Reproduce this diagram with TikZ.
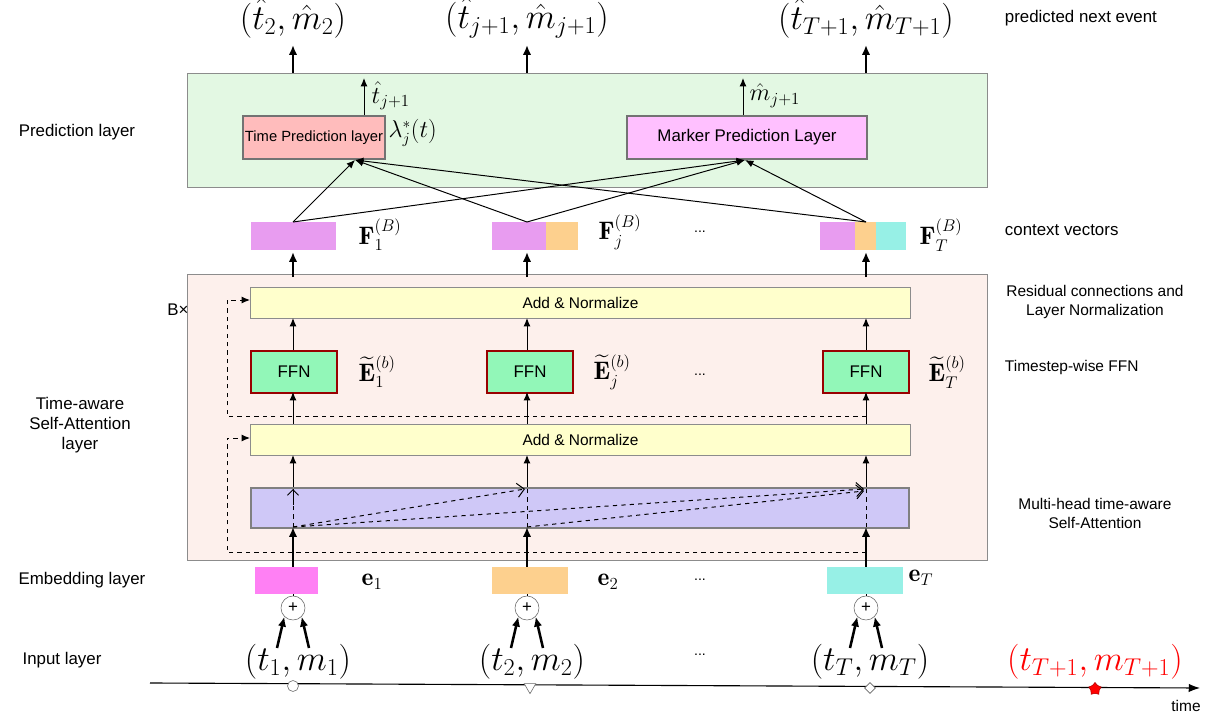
\documentclass[tikz,border=0pt]{standalone}
\usepackage{amsmath}
\usepackage{fontspec}
\setsansfont{Liberation Sans}
\usetikzlibrary{arrows.meta,shapes.geometric,shapes.misc}
\definecolor{cpurp}{HTML}{E89CF0}
\definecolor{corng}{HTML}{FDD08E}
\definecolor{ccyan}{HTML}{97F0E6}
\definecolor{cmag}{HTML}{FF80F4}
\definecolor{ctp}{HTML}{FFBCBC}
\definecolor{cmp}{HTML}{FFC0FF}
\definecolor{cffn}{HTML}{92F7B8}
\definecolor{catt}{HTML}{CFC8F7}
\definecolor{cyel}{HTML}{FFFFCC}
\definecolor{cgrn}{HTML}{E3F8E3}
\definecolor{cpink}{HTML}{FDF0EC}
\begin{document}
\begin{tikzpicture}[x=0.025cm,y=-0.025cm,
  lab/.style={font=\sffamily\fontsize{12}{14}\selectfont,align=center},
  blk/.style={draw=black!45,line width=0.8pt,inner sep=0pt},
  thick arr/.style={-{Latex[length=7pt,width=6pt]},line width=1.8pt},
  arr/.style={-{Latex[length=6pt,width=5pt]},line width=0.7pt},
  dsh/.style={dashed,line width=0.7pt},
  mathl/.style={font=\fontsize{18}{20}\selectfont,inner sep=1pt},
  bigm/.style={font=\fontsize{24}{26}\selectfont,inner sep=1pt}]
\useasboundingbox (0,0) rectangle (1213,716);
% panels
\node[blk,fill=cgrn,minimum width=800*0.025cm,minimum height=114*0.025cm,anchor=north west] (pred) at (187,73) {};
\node[blk,fill=cpink,minimum width=800*0.025cm,minimum height=286*0.025cm,anchor=north west] (att) at (187,274) {};
% prediction boxes
\node[draw=black!55,line width=1.5pt,fill=ctp,inner sep=0pt,minimum width=142*0.025cm,minimum height=43*0.025cm,anchor=north west,font=\sffamily\fontsize{10.5}{13}\selectfont] (tp) at (242,115) {Time Prediction layer};
\node[draw=black!55,line width=1.5pt,fill=cmp,inner sep=0pt,minimum width=240*0.025cm,minimum height=43*0.025cm,anchor=north west,font=\sffamily\fontsize{12}{14}\selectfont] (mp) at (626,115) {Marker Prediction Layer};
\coordinate (tpo) at (364,78); \coordinate (mpo) at (743,78);
\draw[arr] (364,115) -- (tpo);
\draw[arr] (743,115) -- (mpo);
\node[mathl,anchor=west] (th) at (370,96) {$\hat t_{j+1}$};
\node[mathl,anchor=west] (mh) at (748,96) {$\hat m_{j+1}$};
\node[mathl,anchor=west,font=\fontsize{16}{18}\selectfont] (lam) at (387,133) {$\lambda_j^*(t)$};
% outputs
\node[bigm] (o1) at (293,18) {$(\hat t_2,\hat m_2)$};
\node[bigm] (o2) at (527,18) {$(\hat t_{j+1},\hat m_{j+1})$};
\node[bigm] (o3) at (866,18) {$(\hat t_{T+1},\hat m_{T+1})$};
\foreach \x/\n in {293/o1,527/o2,866/o3} \draw[thick arr] (\x,73) -- (\x,45);
% context vectors
\fill[cpurp] (251,222) rectangle (336,250);
\fill[cpurp] (492,222) rectangle (546,250);
\fill[corng] (546,222) rectangle (578,250);
\fill[cpurp] (820,222) rectangle (855,250);
\fill[corng] (855,222) rectangle (876,250);
\fill[ccyan] (876,222) rectangle (906,250);
\coordinate (f1) at (293,222); \coordinate (fj) at (527,222); \coordinate (fT) at (866,222);
\coordinate (tin) at (355,160); \coordinate (min) at (745,160);
\foreach \f in {f1,fj,fT}{\draw[arr] (\f) -- (tin); \draw[arr] (\f) -- (min);}
\node[mathl,anchor=west] (F1) at (357,235) {$\mathbf F_1^{(B)}$};
\node[mathl,anchor=west] (Fj) at (597,232) {$\mathbf F_j^{(B)}$};
\node (d1) at (700,232) {\sffamily ...};
\node[mathl,anchor=west] (FT) at (918,235) {$\mathbf F_T^{(B)}$};
\foreach \x in {293,527,866} \draw[thick arr] (\x,277) -- (\x,252);
% add & norm
\node[blk,fill=cyel,minimum width=660*0.025cm,minimum height=31*0.025cm,anchor=north west,font=\sffamily\fontsize{11}{13}\selectfont] (an1) at (250,287) {Add \& Normalize};
\node[blk,fill=cyel,minimum width=660*0.025cm,minimum height=31*0.025cm,anchor=north west,font=\sffamily\fontsize{11}{13}\selectfont] (an2) at (250,424) {Add \& Normalize};
\node[blk,fill=catt,draw=black!50,line width=1.4pt,minimum width=658*0.025cm,minimum height=40*0.025cm,anchor=north west] (mha) at (250,487) {};
% FFN
\foreach \x/\n in {250/ffa,486/ffb,822/ffc}
  \node[draw=red!60!black,line width=1.5pt,fill=cffn,minimum width=86*0.025cm,minimum height=42*0.025cm,anchor=north west,font=\sffamily\fontsize{12}{14}\selectfont] (\n) at (\x,350) {FFN};
\node[mathl,anchor=west] (E1) at (357,372) {$\widetilde{\mathbf E}_1^{(b)}$};
\node[mathl,anchor=west] (Ej) at (592,372) {$\widetilde{\mathbf E}_j^{(b)}$};
\node (d2) at (700,375) {\sffamily ...};
\node[mathl,anchor=west] (ET) at (927,372) {$\widetilde{\mathbf E}_T^{(b)}$};
% vertical arrows in block
\foreach \x in {293,527,866}{
  \draw[arr] (\x,350) -- (\x,318);
  \draw[arr] (\x,424) -- (\x,392);
  \draw[arr] (\x,487) -- (\x,455);
  \draw[thick arr] (\x,567) -- (\x,527);
  \draw[dsh] (\x,527) -- (\x,489);
}
% attention dashed
\draw[dsh,-{Straight Barb[length=5pt]}] (293,527) -- (525,489);
\draw[dsh,-{Straight Barb[length=5pt]}] (293,527) -- (864,489);
\draw[dsh,-{Straight Barb[length=5pt]}] (527,527) -- (864,491);
\draw[dsh,-{Straight Barb[length=4pt]}] (293,505) -- (293,489);
% residuals
\draw[dsh,-{Latex[length=6pt,width=5pt]}] (866,416) -- (227,416) -- (227,300) -- (an1.west |- 0,300);
\draw[dsh,-{Latex[length=6pt,width=5pt]}] (866,552) -- (227,552) -- (227,438) -- (an2.west |- 0,438);
% embeddings
\node[fill=cmag,minimum width=63*0.025cm,minimum height=27*0.025cm,inner sep=0pt,anchor=north west] (e1) at (255,567) {};
\node[fill=corng,minimum width=76*0.025cm,minimum height=27*0.025cm,inner sep=0pt,anchor=north west] (e2) at (492,567) {};
\node[fill=ccyan,minimum width=76*0.025cm,minimum height=27*0.025cm,inner sep=0pt,anchor=north west] (eT) at (827,567) {};
\node[mathl,anchor=west] (le1) at (360,582) {$\mathbf e_1$};
\node[mathl,anchor=west] (le2) at (596,582) {$\mathbf e_2$};
\node (d3) at (700,580) {\sffamily ...};
\node[mathl,anchor=west] (leT) at (907,578) {$\mathbf e_T$};
% plus and inputs
\foreach \x/\n in {293/1,527/2,866/3}{
  \node[circle,draw=black!60,fill=white,minimum size=24*0.025cm,inner sep=0pt,font=\sffamily\fontsize{12}{12}\selectfont] (p\n) at (\x,608) {+};
  \draw[line width=0.7pt] (p\n) -- (\x,594);
  \draw[thick arr] (\x-16,648) -- (p\n.south west);
  \draw[thick arr] (\x+16,648) -- (p\n.south east);
}
\node[bigm] (i1) at (298,662) {$(t_1,m_1)$};
\node[bigm] (i2) at (532,662) {$(t_2,m_2)$};
\node (d4) at (700,655) {\sffamily ...};
\node[bigm] (i3) at (870,662) {$(t_T,m_T)$};
\node[bigm,text=red] (i4) at (1095,662) {$(t_{T+1},m_{T+1})$};
% timeline
\coordinate (ts) at (150,683); \coordinate (te) at (1200,688);
\draw[line width=0.8pt,-{Latex[length=8pt,width=6pt]}] (ts) -- (te);
\node[circle,draw=black!60,fill=white,minimum size=11*0.025cm,inner sep=0pt] (m1) at (293,686) {};
\node[isosceles triangle,shape border rotate=-90,isosceles triangle apex angle=60,draw=black!60,fill=white,minimum size=10*0.025cm,inner sep=0pt] (m2) at (530,687) {};
\node[diamond,draw=black!60,fill=white,minimum size=11*0.025cm,inner sep=0pt] (m3) at (870,688) {};
\node[star,star points=5,fill=red,draw=red!70!black,minimum size=13*0.025cm,inner sep=0pt] (m4) at (1095,689) {};
\node[lab,font=\sffamily\fontsize{11}{13}\selectfont] (tm) at (1186,706) {time};
% left labels
\node[lab] (L1) at (77,132) {Prediction layer};
\node[lab] (L2) at (178,310) {B×};
\node[lab] (L3) at (80,425) {Time-aware\\Self-Attention\\layer};
\node[lab] (L4) at (82,580) {Embedding layer};
\node[lab] (L5) at (62,660) {Input layer};
% right labels
\node[lab,anchor=west] (R1) at (1000,18) {predicted next event};
\node[lab,anchor=west] (R2) at (1000,230) {context vectors};
\node[lab,font=\sffamily\fontsize{11}{13.5}\selectfont] (R3) at (1095,302) {Residual connections and\\Layer Normalization};
\node[lab,anchor=west,font=\sffamily\fontsize{11}{13}\selectfont] (R4) at (1000,367) {Timestep-wise FFN};
\node[lab,font=\sffamily\fontsize{11}{13.5}\selectfont] (R5) at (1095,513) {Multi-head time-aware\\Self-Attention};
\end{tikzpicture}
\end{document}
